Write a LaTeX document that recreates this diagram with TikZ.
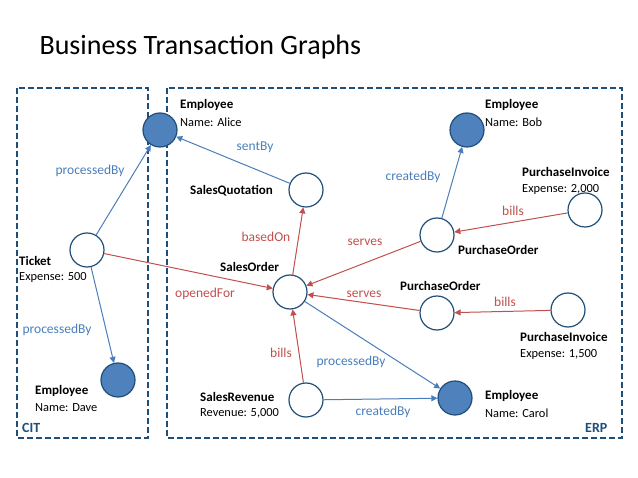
\documentclass[tikz,border=0pt]{standalone}
\usepackage{fontspec}
\setmainfont{Carlito}
\usetikzlibrary{arrows.meta}
\definecolor{bl}{HTML}{4A7EBB}
\definecolor{bfill}{HTML}{4F81BD}
\definecolor{rd}{HTML}{C0504D}
\definecolor{dk}{HTML}{1F4E79}
\begin{document}
\begin{tikzpicture}[x=1pt,y=-1pt,
  circ/.style={circle,draw=dk,line width=1.2pt,fill=white,minimum size=34pt,inner sep=0},
  emp/.style={circ,fill=bfill},
  bt/.style={font=\fontsize{13}{14}\selectfont\bfseries,anchor=west,inner sep=0},
  nt/.style={font=\fontsize{12.4}{13}\selectfont,anchor=west,inner sep=0},
  bl lab/.style={font=\fontsize{13.5}{14}\selectfont,text=bl,inner sep=0},
  rd lab/.style={font=\fontsize{13.5}{14}\selectfont,text=rd,inner sep=0},
  be/.style={draw=bl,line width=1pt,-{Triangle[length=6pt,width=6pt]}},
  re/.style={draw=rd,line width=1pt,-{Triangle[length=6pt,width=6pt]}},
  box/.style={draw=dk,dash pattern=on 6pt off 3pt,line width=1.3pt}]
\useasboundingbox (0,0) rectangle (638,478);
\node[anchor=west,font=\fontsize{28}{30}\selectfont] (title) at (36,47) {Business Transaction Graphs};
\draw[box] (17,88) rectangle (148,438);
\draw[box] (167,88) rectangle (622,438);
\node[font=\fontsize{14}{15}\selectfont\bfseries,text=dk,anchor=west,inner sep=0] (cit) at (22,428) {CIT};
\node[font=\fontsize{14}{15}\selectfont\bfseries,text=dk,anchor=west,inner sep=0] (erp) at (585,428) {ERP};
% nodes
\node[emp] (alice) at (160,130) {};
\node[circ] (sq) at (306,190) {};
\node[emp] (bob) at (467,130) {};
\node[circ] (pi1) at (585,210) {};
\node[circ] (po1) at (437,235) {};
\node[circ] (ticket) at (87,250) {};
\node[circ] (so) at (290,292) {};
\node[circ] (po2) at (437,313) {};
\node[circ] (pi2) at (568,310) {};
\node[emp] (dave) at (118,380) {};
\node[circ] (sr) at (306,400) {};
\node[emp] (carol) at (455,398) {};
% node texts
\node[bt] (t1) at (180,105) {Employee}; \node[nt] (t2) at (180,122) {Name: Alice};
\node[bt] (t3) at (485,105) {Employee}; \node[nt] (t4) at (485,122) {Name: Bob};
\node[bt] (t5) at (522,172) {PurchaseInvoice}; \node[nt] (t6) at (522,189) {Expense: 2,000};
\node[bt] (t7) at (190,191) {SalesQuotation};
\node[bt] (t8) at (458,250) {PurchaseOrder};
\node[bt] (t9) at (19,261) {Ticket}; \node[nt] (t10) at (19,277) {Expense: 500};
\node[bt] (t11) at (220,267) {SalesOrder};
\node[bt] (t12) at (400,286) {PurchaseOrder};
\node[bt] (t13) at (520,337) {PurchaseInvoice}; \node[nt] (t14) at (520,354) {Expense: 1,500};
\node[bt] (t15) at (35,391) {Employee}; \node[nt] (t16) at (35,408) {Name: Dave};
\node[bt] (t17) at (200,397) {SalesRevenue}; \node[nt] (t18) at (200,413) {Revenue: 5,000};
\node[bt] (t19) at (485,396) {Employee}; \node[nt] (t20) at (485,413) {Name: Carol};
% edges
\draw[be] (ticket) -- (alice);
\draw[be] (ticket) -- (dave);
\draw[re] (ticket) -- (so);
\draw[be] (sq) -- (alice);
\draw[re] (so) -- (sq);
\draw[re] (po1) -- (so);
\draw[be] (po1) -- (bob);
\draw[re] (pi1) -- (po1);
\draw[re] (po2) -- (so);
\draw[re] (pi2) -- (po2);
\draw[re] (sr) -- (so);
\draw[be] (so) -- (carol);
\draw[be] (sr) -- (carol);
% edge labels
\node[bl lab] (l1) at (90,171) {processedBy};
\node[bl lab] (l2) at (255,147) {sentBy};
\node[bl lab] (l3) at (413,177) {createdBy};
\node[rd lab] (l4) at (513,211) {bills};
\node[rd lab] (l5) at (266,237) {basedOn};
\node[rd lab] (l6) at (365,242) {serves};
\node[rd lab] (l7) at (205,294) {openedFor};
\node[rd lab] (l8) at (364,294) {serves};
\node[rd lab] (l9) at (505,302) {bills};
\node[bl lab] (l10) at (57,330) {processedBy};
\node[rd lab] (l11) at (281,353) {bills};
\node[bl lab] (l12) at (351,362) {processedBy};
\node[bl lab] (l13) at (383,412) {createdBy};
\end{tikzpicture}
\end{document}
